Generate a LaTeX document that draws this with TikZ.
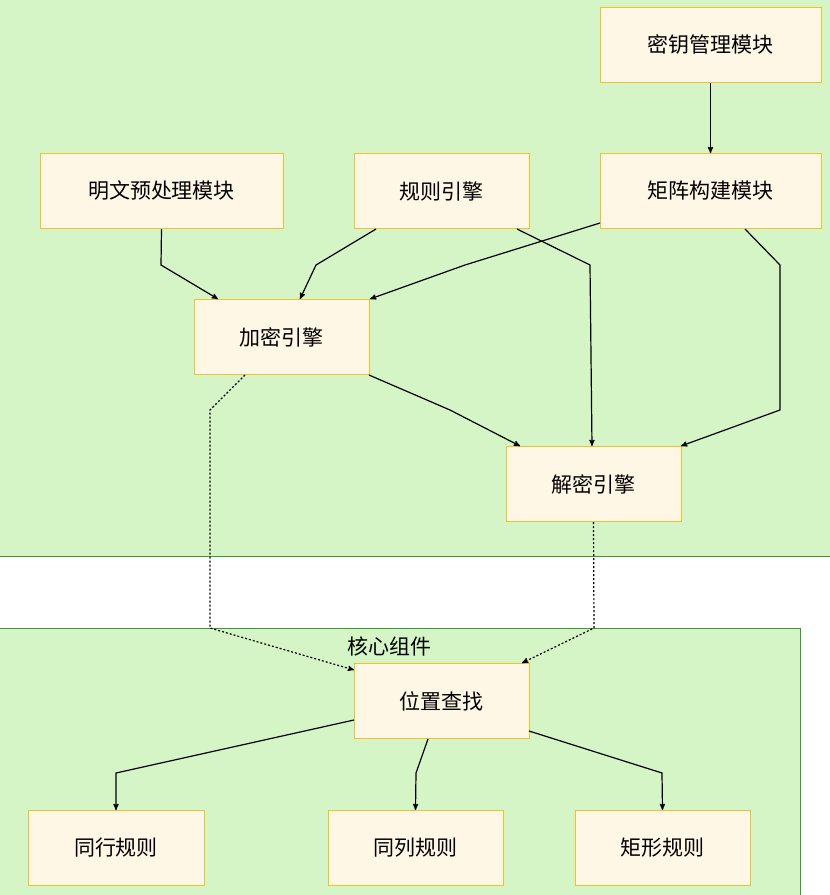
\documentclass[tikz,border=0pt]{standalone}
\usepackage{fontspec}
\setmainfont{Noto Sans CJK SC}
\usetikzlibrary{arrows}
\definecolor{grp}{HTML}{D5F5C6}
\definecolor{grpline}{HTML}{3C9A34}
\definecolor{boxfill}{HTML}{FFF7E6}
\definecolor{boxline}{HTML}{F0C030}
\begin{document}
\begin{tikzpicture}[x=1pt,y=-1pt,->,>=stealth',thick,
  mod/.style={rectangle,draw=boxline,fill=boxfill,line width=1pt,minimum width=175pt,minimum height=75pt,font=\fontsize{21}{25}\selectfont},
  wide/.style={mod,minimum width=221pt},
  link/.style={draw=black,line width=1.2pt},
  dot/.style={link,dash pattern=on 2pt off 2pt}]
  \useasboundingbox (0,0) rectangle (830,895);
  % clusters
  \fill[grp,draw=grpline,line width=1pt,-] (-2,-5) rectangle (832,556);
  \fill[grp,draw=grpline,line width=1pt,-] (-2,628) rectangle (800,900);
  \node[font=\fontsize{21}{25}\selectfont] (core) at (389,646) {核心组件};
  % modules
  \node[wide] (key) at (710.5,44.5) {密钥管理模块};
  \node[mod,minimum width=243pt] (plain) at (161.5,191) {明文预处理模块};
  \node[mod] (rule) at (441.5,191) {规则引擎};
  \node[wide] (matrix) at (710.5,191) {矩阵构建模块};
  \node[mod] (enc) at (281.5,337) {加密引擎};
  \node[mod] (dec) at (593.5,484) {解密引擎};
  \node[mod] (find) at (441.5,701) {位置查找};
  \node[mod,minimum width=176pt] (row) at (116,848) {同行规则};
  \node[mod] (col) at (415.5,848) {同列规则};
  \node[mod] (rect) at (662.5,848) {矩形规则};
  % connectors
  \draw[link] (key) -- (matrix);
  \draw[link] (plain.south) -- (161,265) -- (218,299);
  \draw[link] (376,229) -- (316,265) -- (300,299);
  \draw[link] (517,229) -- (590,265) -- (592,446);
  \draw[link] (600,223) -- (465,265) -- (370,299);
  \draw[link] (745,229) -- (780,265) -- (780,410) -- (681,446);
  \draw[link] (369,375) -- (450,410) -- (520,446);
  \draw[dot] (245,375) -- (210,410) -- (210,628) -- (354,670);
  \draw[dot] (dec.south) -- (594,628) -- (522,663);
  \draw[link] (354,720) -- (116,773) -- (row.north);
  \draw[link] (428,739) -- (416,773) -- (col.north);
  \draw[link] (529,731) -- (662,773) -- (rect.north);
\end{tikzpicture}
\end{document}
